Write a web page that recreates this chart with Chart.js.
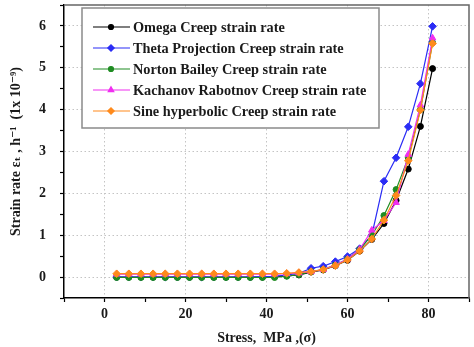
<!DOCTYPE html>
<html>
<head>
<meta charset="utf-8">
<script src="https://cdn.jsdelivr.net/npm/chart.js@4.4.1/dist/chart.umd.min.js"></script>
<style>
  html, body { margin: 0; padding: 0; background: #fff; }
  #wrap { width: 474px; height: 347px; }
</style>
</head>
<body>
<div id="wrap"><canvas id="grafico-creep"></canvas></div>
<script>
// stress (MPa)
const STRESS = [3, 6, 9, 12, 15, 18, 21, 24, 27, 30, 33, 36, 39, 42, 45, 48, 51, 54, 57, 60, 63, 66, 69, 72, 75, 78, 81];

// strain rate values (x 1e-9 h^-1)
const omega = [0, 0, 0, 0, 0, 0, 0, 0, 0, 0, 0, 0, 0, 0.01, 0.03, 0.05, 0.12, 0.17, 0.27, 0.40, 0.62, 0.90, 1.28, 1.83, 2.58, 3.60, 4.98];
const theta = [0, 0, 0, 0, 0, 0, 0, 0, 0, 0, 0, 0, 0.01, 0.02, 0.05, 0.09, 0.21, 0.26, 0.37, 0.49, 0.68, 1.00, 2.29, 2.85, 3.59, 4.62, 5.99];
const norton = [-0.01, -0.01, -0.01, -0.01, -0.01, -0.01, -0.01, -0.01, -0.01, -0.01, -0.01, -0.01, -0.01, -0.01, 0.02, 0.06, 0.13, 0.18, 0.29, 0.43, 0.66, 1.00, 1.47, 2.09, 2.85, 4.00, 5.60];
const kachanov = [0.07, 0.07, 0.07, 0.07, 0.07, 0.07, 0.07, 0.07, 0.07, 0.07, 0.07, 0.07, 0.07, 0.07, 0.08, 0.10, 0.13, 0.18, 0.29, 0.43, 0.66, 1.12, 1.35, 1.78, 2.93, 4.11, 5.71];
const sineHyp = [0.08, 0.08, 0.08, 0.08, 0.08, 0.08, 0.08, 0.08, 0.08, 0.08, 0.08, 0.08, 0.08, 0.08, 0.09, 0.11, 0.13, 0.18, 0.27, 0.41, 0.62, 0.91, 1.36, 1.95, 2.78, 3.99, 5.58];

const X_LABELS = [0, 20, 40, 60, 80];
const Y_LABELS = [0, 1, 2, 3, 4, 5, 6];

const SERIF = '"Liberation Serif", "DejaVu Serif", serif';

function pts(values) {
    return values.map((v, i) => ({ x: STRESS[i], y: v }));
}

function serie(label, values, color, style, order) {
    return {
        label: label,
        data: pts(values),
        borderColor: color,
        backgroundColor: color,
        borderWidth: 1.2,
        pointStyle: style,
        pointRadius: style === 'circle' ? 3 : 3.8,
        pointBorderWidth: 1,
        pointBorderColor: color,
        pointBackgroundColor: color,
        tension: 0,
        order: order
    };
}

const data = {
    datasets: [
        serie('Omega Creep strain rate', omega, '#000000', 'circle', 5),
        serie('Theta Projection Creep strain rate', theta, '#2a2cf5', 'rectRot', 4),
        serie('Norton Bailey Creep strain rate', norton, '#1f8c22', 'circle', 3),
        serie('Kachanov Rabotnov Creep strain rate', kachanov, '#f02ef0', 'triangle', 2),
        serie('Sine hyperbolic Creep strain rate', sineHyp, '#ff8a1c', 'rectRot', 1)
    ]
};

// legend inside the plot + top/right frame
const boxLegend = {
    id: 'boxLegend',
    afterDraw(chart) {
        const ctx = chart.ctx;
        const a = chart.chartArea;
        ctx.save();
        ctx.strokeStyle = '#666';
        ctx.lineWidth = 1.5;
        ctx.beginPath();
        ctx.moveTo(a.left, a.top);
        ctx.lineTo(a.right, a.top);
        ctx.lineTo(a.right, a.bottom);
        ctx.stroke();

        const bx = 82, by = 8, bw = 297, bh = 120;
        ctx.fillStyle = '#fff';
        ctx.fillRect(bx, by, bw, bh);
        ctx.strokeStyle = '#8a8a8a';
        ctx.lineWidth = 1.5;
        ctx.strokeRect(bx, by, bw, bh);

        ctx.font = 'bold 14.3px ' + SERIF;
        ctx.textBaseline = 'middle';
        chart.data.datasets.forEach((ds, i) => {
            const y = 27 + i * 21;
            ctx.strokeStyle = ds.borderColor;
            ctx.lineWidth = 1.2;
            ctx.beginPath();
            ctx.moveTo(93, y);
            ctx.lineTo(130, y);
            ctx.stroke();
            ctx.fillStyle = ds.borderColor;
            Chart.helpers.drawPoint(ctx, {
                pointStyle: ds.pointStyle,
                radius: ds.pointStyle === 'circle' ? 2.5 : 3.2,
                rotation: 0,
                borderWidth: 1
            }, 111, y);
            ctx.fillStyle = '#1a1a1a';
            ctx.fillText(ds.label, 133, y + 1);
        });
        ctx.restore();
    }
};

const CHART = document.getElementById('grafico-creep');
const grafico = new Chart(CHART, {
    type: 'line',
    data: data,
    plugins: [boxLegend],
    options: {
        responsive: true,
        maintainAspectRatio: false,
        animation: false,
        layout: { padding: { left: 0, top: 3, right: 1, bottom: 0 } },
        plugins: {
            legend: { display: false },
            tooltip: { enabled: false }
        },
        scales: {
            x: {
                type: 'linear',
                min: -10,
                max: 90,
                afterFit(scale) {
                    scale.height = 49;
                    scale.paddingLeft = 0;
                    scale.paddingRight = 0;
                },
                ticks: {
                    stepSize: 10,
                    autoSkip: false,
                    maxRotation: 0,
                    padding: 4,
                    color: '#1a1a1a',
                    font: { family: SERIF, size: 14, weight: 'bold' },
                    callback: v => X_LABELS.includes(v) ? String(v) : ''
                },
                grid: {
                    color: c => X_LABELS.includes(c.tick && c.tick.value) ? '#c4c4c4' : 'rgba(0,0,0,0)',
                    lineWidth: 1,
                    tickLength: 4,
                    tickColor: '#000',
                    tickWidth: 1.2
                },
                border: { color: '#000', width: 1.5, dash: [1.5, 2.5] },
                title: {
                    display: true,
                    text: 'Stress,  MPa ,(σ)',
                    color: '#1a1a1a',
                    font: { family: SERIF, size: 14, weight: 'bold' },
                    padding: { top: 2, bottom: 0 }
                }
            },
            y: {
                min: -0.5,
                max: 6.5,
                afterFit(scale) {
                    scale.width = 64;
                    scale.paddingTop = 0;
                    scale.paddingBottom = 0;
                },
                ticks: {
                    stepSize: 0.5,
                    autoSkip: false,
                    padding: 14,
                    color: '#1a1a1a',
                    font: { family: SERIF, size: 14, weight: 'bold' },
                    callback: v => Y_LABELS.includes(v) ? String(v) : ''
                },
                grid: {
                    color: c => Y_LABELS.includes(c.tick && c.tick.value) ? '#c4c4c4' : 'rgba(0,0,0,0)',
                    lineWidth: 1,
                    tickLength: 4,
                    tickColor: '#000',
                    tickWidth: 1.2
                },
                border: { color: '#000', width: 1.5, dash: [1.5, 2.5] },
                title: {
                    display: true,
                    text: 'Strain rate εₜ , h⁻¹  (1x 10⁻⁹)',
                    color: '#1a1a1a',
                    font: { family: SERIF, size: 14, weight: 'bold' },
                    padding: { top: 8, bottom: 2 }
                }
            }
        }
    }
});
</script>
</body>
</html>
